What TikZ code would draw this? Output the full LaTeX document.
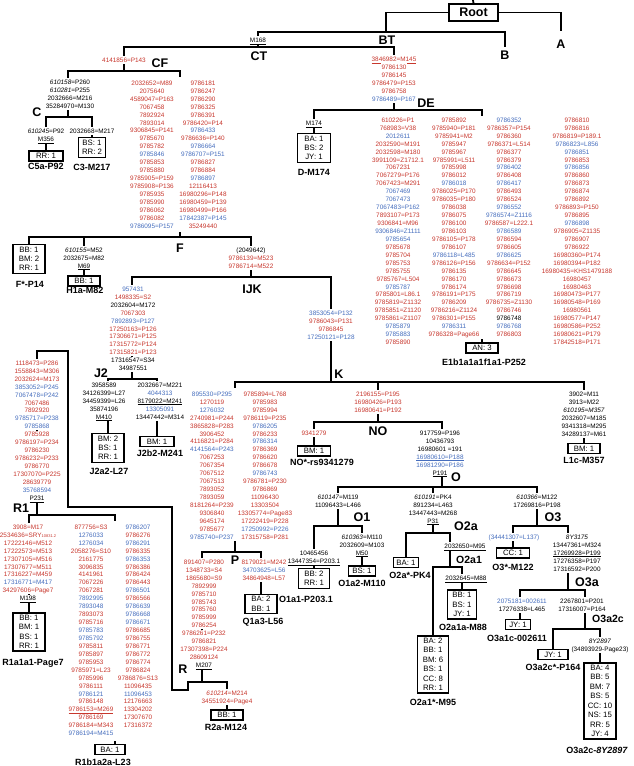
\documentclass[tikz,border=0pt]{standalone}
\usepackage{fontspec}
\setmainfont{Liberation Sans}
\definecolor{snpred}{RGB}{200,55,45}
\definecolor{snpblue}{RGB}{70,110,190}
\newcommand\Bl[1]{\textcolor{snpblue}{#1}}
\newcommand\Bk[1]{\textcolor{black}{#1}}
\newcommand\bs{\rule[-2.2pt]{0pt}{9.43pt}}
\newcommand\snpcol[5]{\foreach \itm [count=\i from 0] in {#5} {\node[snp,text=#4] (#1-\i) at (#2,{#3+\i*7.94}) {\itm};}}
\begin{document}
\begin{tikzpicture}[x=1pt,y=-1pt,
 tree/.style={line width=1.8pt, line join=miter},
 snp/.style={inner xsep=0.6pt, inner ysep=1.65pt, text height=4.6pt, text depth=0pt, font=\fontsize{6.4}{7.94}\selectfont, fill=white},
 lab/.style={inner sep=0pt, text height=8.95pt, text depth=0pt, font=\fontsize{12.5}{14}\selectfont\bfseries},
 labs/.style={inner sep=0pt, text height=7.5pt, text depth=0pt, font=\fontsize{10.5}{12}\selectfont\bfseries},
 leaf/.style={inner sep=0pt, text height=6.45pt, text depth=0pt, font=\fontsize{9}{10}\selectfont\bfseries},
 gbox/.style={draw, line width=1.4pt, fill=white, align=center, inner xsep=0pt, inner ysep=0.3pt, minimum width=#1, font=\fontsize{7.8}{9.43}\selectfont},
 gbox/.default=32pt]
\fill[white] (0,0) rectangle (634,766);
\useasboundingbox (0,0) rectangle (634,766);
% ---------- junction coordinates
\coordinate (rtop) at (473,0);
\coordinate (BT) at (386,32);
\coordinate (Aend) at (561,31);
\coordinate (Bend) at (505,47);
\coordinate (CTj) at (258,47);
\coordinate (CTl) at (124,47);
\coordinate (CTr) at (394,47);
\coordinate (CFj) at (124,71);
\coordinate (CFl) at (68,71);
\coordinate (CFr) at (180,71);
\coordinate (Cj) at (68,117);
\coordinate (Cl) at (46,117);
\coordinate (Cr) at (92,117);
\coordinate (DEj) at (394,110);
\coordinate (DEl) at (314,110);
\coordinate (DEr) at (482,110);
\coordinate (Fj) at (180,237);
\coordinate (Fl) at (29,237);
\coordinate (Fm) at (84,237);
\coordinate (Fr) at (251,237);
\coordinate (IJKj) at (251,277);
\coordinate (IJKl) at (132,277);
\coordinate (IJKr) at (331,277);
\coordinate (J2j) at (132,379);
\coordinate (J2l) at (108,379);
\coordinate (J2r) at (157,379);
\coordinate (Kj) at (331,382);
\coordinate (Kl) at (235,382);
\coordinate (Km) at (378,382);
\coordinate (Kr) at (584,382);
\coordinate (Pj) at (235,552);
\coordinate (Pl) at (202,552);
\coordinate (Pr) at (261,552);
\coordinate (Rj) at (202,682);
\coordinate (Rl) at (188,682);
\coordinate (Rr) at (227,682);
\coordinate (rp1) at (188,690);
\coordinate (rp2) at (172,690);
\coordinate (rp3) at (172,507);
\coordinate (rp4) at (68,507);
\coordinate (rp5) at (68,351);
\coordinate (rp6) at (37,351);
\coordinate (R1j) at (37,515);
\coordinate (R1l) at (29,515);
\coordinate (R1r) at (115,515);
\coordinate (NOj) at (378,422);
\coordinate (NOl) at (314,422);
\coordinate (NOr) at (442,422);
\coordinate (Oj) at (442,487);
\coordinate (Ol) at (338,487);
\coordinate (Om) at (433,487);
\coordinate (Or) at (537,487);
\coordinate (O1j) at (338,526);
\coordinate (O1l) at (314,526);
\coordinate (O1r) at (362,526);
\coordinate (O2aj) at (433,533);
\coordinate (O2al) at (406,533);
\coordinate (O2ar) at (450,533);
\coordinate (O2a1j) at (450,567);
\coordinate (O2a1l) at (433,567);
\coordinate (O2a1r) at (462,567);
\coordinate (O3j) at (537,526);
\coordinate (O3l) at (513,526);
\coordinate (O3r) at (568,526);
\coordinate (O3aj) at (568,590);
\coordinate (O3al) at (520,590);
\coordinate (O3ar) at (585,590);
\coordinate (O3a2cj) at (585,629);
\coordinate (O3a2cl) at (553,629);
\coordinate (O3a2cr) at (600,629);
% ---------- boxes
\node[draw, line width=1.5pt, fill=white, minimum width=49pt, minimum height=17pt, inner sep=0pt, font=\fontsize{12.5}{14}\selectfont\bfseries] (root) at (473.5,12.5) {Root};
\node[gbox=34pt] (bx-c5a) at (46,156) {\bs RR: 1};
\node[gbox=27pt] (bx-c3) at (92,147.5) {\bs BS: 1\\\bs RR: 2};
\node[gbox=33pt] (bx-d) at (314,148) {\bs BA: 1\\\bs BS: 2\\\bs JY: 1};
\node[gbox=32pt] (bx-e) at (482,348) {\bs AN: 3};
\node[gbox=32pt] (bx-fs) at (29,259) {\bs BB: 1\\\bs BM: 2\\\bs RR: 1};
\node[gbox=32pt] (bx-h) at (84,281) {\bs BB: 1};
\node[gbox=32pt] (bx-j2a) at (108,448) {\bs BM: 2\\\bs BS: 1\\\bs RR: 1};
\node[gbox=34pt] (bx-j2b) at (157,441.5) {\bs BM: 1};
\node[gbox=33pt] (bx-no) at (314,451) {\bs BM: 1};
\node[gbox=32pt] (bx-l) at (584,448.5) {\bs BM: 1};
\node[gbox=31pt] (bx-o1a1) at (314,578.5) {\bs BB: 2\\\bs RR: 1};
\node[gbox=27pt] (bx-o1a2) at (362,571) {\bs BS: 1};
\node[gbox=25pt] (bx-o2as) at (406,562.5) {\bs BA: 1};
\node[gbox=33pt] (bx-o3s) at (513,553) {\bs CC: 1};
\node[gbox=32pt] (bx-q) at (261,604) {\bs BA: 2\\\bs BB: 1};
\node[gbox=29pt] (bx-o2a1a) at (462,604.5) {\bs BB: 1\\\bs BS: 1\\\bs JY: 1};
\node[gbox=25pt] (bx-o3a1c) at (518,624.5) {\bs JY: 1};
\node[gbox=30pt] (bx-o3a2cs) at (553,654.5) {\bs JY: 1};
\node[gbox=32pt] (bx-r1a) at (29,632) {\bs BB: 1\\\bs BM: 1\\\bs BS: 1\\\bs RR: 1};
\node[gbox=31pt] (bx-o2a1s) at (433,664.5) {\bs BA: 2\\\bs BB: 1\\\bs BM: 6\\\bs BS: 1\\\bs CC: 8\\\bs RR: 1};
\node[gbox=32pt] (bx-r2) at (227,715) {\bs BB: 1};
\node[gbox=32pt] (bx-o3a2c) at (600,701) {\bs BA: 4\\\bs BB: 5\\\bs BM: 7\\\bs BS: 5\\\bs CC: 10\\\bs NS: 15\\\bs RR: 5\\\bs JY: 4};
\node[gbox=30pt] (bx-r1b) at (110,749.5) {\bs BA: 1};
% ---------- tree lines
\draw[tree] (rtop) -- (root.north);
\draw[tree] (root.west) -| (BT);
\draw[tree] (root.east) -| (Aend);
\draw[tree] (CTj) -- (CTj |- BT) -| (Bend);
\draw[tree] (CFj) -- (CTl) -- (CTr) -- (DEj);
\draw[tree] (Cj) -- (CFl) -- (CFr) -- (Fj);
\draw[tree] (Cl |- bx-c5a.north) -- (Cl) -- (Cr) -- (Cr |- bx-c3.north);
\draw[tree] (DEl |- bx-d.north) -- (DEl) -- (DEr) -- (DEr |- bx-e.north);
\draw[tree] (Fl |- bx-fs.north) -- (Fl) -- (Fr) -- (IJKj);
\draw[tree] (Fm) -- (Fm |- bx-h.north);
\draw[tree] (J2j) -- (IJKl) -- (IJKr) -- (Kj);
\draw[tree] (J2l |- bx-j2a.north) -- (J2l) -- (J2r) -- (J2r |- bx-j2b.north);
\draw[tree] (Pj) -- (Kl) -- (Kr) -- (Kr |- bx-l.north);
\draw[tree] (Km) -- (NOj);
\draw[tree] (Rj) -- (Pl) -- (Pr) -- (Pr |- bx-q.north);
\draw[tree] (Rr |- bx-r2.north) -- (Rr) -- (Rl) -- (rp1) -- (rp2) -- (rp3) -- (rp4) -- (rp5) -- (rp6) -- (R1j);
\draw[tree] (R1l |- bx-r1a.north) -- (R1l) -- (R1r) -- (R1r |- bx-r1b.north);
\draw[tree] (NOl |- bx-no.north) -- (NOl) -- (NOr) -- (Oj);
\draw[tree] (O1j) -- (Ol) -- (Or) -- (O3j);
\draw[tree] (Om) -- (O2aj);
\draw[tree] (O1l |- bx-o1a1.north) -- (O1l) -- (O1r) -- (O1r |- bx-o1a2.north);
\draw[tree] (O2al |- bx-o2as.north) -- (O2al) -- (O2ar) -- (O2a1j);
\draw[tree] (O2a1l |- bx-o2a1s.north) -- (O2a1l) -- (O2a1r) -- (O2a1r |- bx-o2a1a.north);
\draw[tree] (O3l |- bx-o3s.north) -- (O3l) -- (O3r) -- (O3aj);
\draw[tree] (O3al |- bx-o3a1c.north) -- (O3al) -- (O3ar) -- (O3a2cj);
\draw[tree] (O3a2cl |- bx-o3a2cs.north) -- (O3a2cl) -- (O3a2cr) -- (O3a2cr |- bx-o3a2c.north);
% ---------- gaps behind two-column blocks
\fill[white] (173,77) rectangle (187,232);
\fill[white] (478,116) rectangle (486,339);
\fill[white] (230,388) rectangle (240,541);
\fill[white] (111,521) rectangle (120,741);
% ---------- SNP texts
\node[snp,text=black] (m168) at (258,40) {\underline{M168}};
\node[snp,text=snpred] (p143) at (124,60) {4141856=P143};
\snpcol{cfa}{152}{83}{snpred}{2032652=M89, 2075640, 4589047=P163, 7067458, 7892924, 7893014, 9306845=P141, 9785670, 9785782, \Bl{9785846}, 9785853, 9785880, 9785905=P159, 9785908=P136, 9785935, 9785990, 9786062, 9786082, \Bl{9786095=P157}}
\snpcol{cfb}{203}{83}{snpred}{9786181, 9786247, 9786290, 9786325, 9786391, 9786420=P14, \Bl{9786433}, 9786636=P140, \Bl{9786664}, \Bl{9786707=P151}, 9786827, 9786884, \Bl{9786897}, 12116413, 16980296=P148, 16980459=P139, 16980499=P166, \Bl{17842387=P145}, 35249440}
\snpcol{ct}{70}{82}{black}{\textit{610158}=P260, \textit{610281}=P255, 2032666=M216, 35284970=M130}
\snpcol{c5}{46}{131}{black}{\textit{610245}=P92, \underline{M356}}
\snpcol{c3}{92}{131}{black}{2032668=M217}
\snpcol{de}{394}{59}{snpred}{\underline{3846982=M145}, 9786130, 9786145, 9786479=P153, 9786758, \Bl{9786489=P167}}
\snpcol{dd}{314}{123}{black}{\underline{M174}}
\snpcol{ea}{398}{120}{snpred}{610226=P1, 768983=V38, \Bl{2012611}, 2032590=M191, 2032598=M180, 3991109=Z1712.1, 7067231, 7067279=P176, 7067423=M291, \Bl{7067469}, \Bl{7067473}, \Bl{7067483=P162}, 7893107=P173, 9306841=M96, \Bl{9306846=Z1111}, \Bl{9785654}, 9785678, 9785704, 9785753, 9785755, 9785767=L504, \Bl{9785787}, 9785801=L86.1, 9785819=Z1132, 9785851=Z1120, 9785861=Z1107, \Bl{9785879}, \Bl{9785883}, 9785890}
\snpcol{eb}{454}{120}{snpred}{9785892, 9785940=P181, 9785941=M2, 9785947, 9785967, 9785991=L511, 9785998, 9786012, \Bl{9786018}, 9786025=P170, 9786035=P180, 9786038, 9786075, 9786100, 9786103, 9786105=P178, 9786107, \Bl{9786118=L485}, 9786126=P156, 9786135, 9786170, 9786174, 9786191=P175, 9786209, 9786216=Z1124, 9786301=P155, \Bl{9786311}, 9786328=Page66}
\snpcol{ec}{509}{120}{snpred}{\Bl{9786352}, 9786357=P154, 9786360, 9786371=L514, 9786377, 9786379, \Bl{9786402}, 9786408, \Bl{9786417}, 9786493, 9786524, \Bl{9786552}, \Bl{9786574=Z1116}, 9786587=L222.1, \Bl{9786589}, 9786594, 9786605, \Bl{9786625}, 9786634=P152, 9786645, 9786673, 9786698, 9786719, 9786735=Z1130, 9786746, \Bk{9786748}, \Bl{9786768}, 9786803}
\snpcol{ed}{577}{120}{snpred}{9786810, 9786816, 9786819=P189.1, \Bl{9786823=L856}, \Bl{9786851}, 9786853, \Bl{9786856}, 9786860, 9786873, 9786874, 9786892, 9786893=P150, 9786895, \Bl{9786898}, 9786905=Z1135, 9786907, 9786922, 16980360=P174, 16980394=P182, 16980435=KHS1479188, 16980457, 16980463, 16980473=P177, 16980548=P169, 16980561, 16980577=P147, 16980586=P252, 16980621=P179, 17842518=P171}
\snpcol{h}{84}{250}{black}{\textit{610155}=M52, 2032675=M82, \underline{M69}}
\snpcol{ijk}{251}{250}{snpred}{\Bk{(2049642)}, 9786139=M523, 9786714=M522}
\snpcol{j}{133}{289}{snpred}{\Bl{957431}, 1498335=S2, \Bk{2032604=M172}, 7067303, \Bl{7892893=P127}, 17250163=P126, 17306671=P125, 17315772=P124, 17315821=P123, \Bk{17316547=S34}, \Bk{34987551}}
\snpcol{k}{331}{313}{snpred}{\Bl{3853054=P132}, 9786043=P131, 9786845, \Bl{17250121=P128}}
\snpcol{ja}{104}{385}{black}{3958589, 34126399=L27, 34459399=L26, 35874196, \underline{M410}}
\snpcol{jb}{160}{385}{black}{2032667=M221, \Bl{4044313}, \underline{8179022=M241}, \Bl{13305091}, 13447442=M314}
\snpcol{pqa}{212}{394}{snpred}{\Bl{895530=P295}, 1270119, \Bl{1276032}, 2740981=P244, 3865828=P283, 3906452, 4116821=P284, \Bl{4141564=P243}, 7067253, 7067354, 7067512, 7067513, 7893052, 7893059, 8181264=P239, 9306840, 9645174, 9785677, \Bl{9785740=P237}}
\snpcol{pqb}{265}{394}{snpred}{9785894=L768, 9785983, 9785994, 9786119=P235, \Bl{9786205}, 9786233, \Bl{9786314}, 9786369, 9786620, 9786678, \Bl{9786743}, 9786781=P230, 9786869, 11096430, 13303504, 13305774=Page83, 17222419=P228, \Bl{17250992=P226}, 17315758=P281}
\snpcol{rp}{204}{562}{snpred}{891407=P280, 1348733=S4, 1865680=S9, 7892999, 9785710, 9785743, 9785760, 9785999, 9786254, 9786261=P232, 9786821, 17307398=P224, 28609124, \Bk{\underline{M207}}}
\snpcol{q}{264}{562}{snpred}{8179021=M242, \Bl{34703625=L56}, 34864948=L57}
\snpcol{r2}{227}{693}{snpred}{\underline{\textit{610214}=M214}, 34551924=Page4}
\snpcol{r1}{37}{363}{snpred}{1118473=P286, 1558843=M306, 2032624=M173, \Bl{3853052=P245}, \Bl{7067478=P242}, 7067486, 7892920, \Bl{9785717=P238}, \Bl{9785868}, 9785928, 9786197=P234, 9786230, 9786232=P233, 9786770, 17307070=P225, 28639779, \Bl{35768594}, \Bk{\underline{P231}}}
\snpcol{r1a}{28}{527}{snpred}{3908=M17, 2534636=SRY{\fontsize{4}{4}\selectfont 10831.2}, 17222146=M512, 17222573=M513, 17307105=M516, 17307677=M511, 17316227=M459, \Bl{17316771=M417}, 34297606=Page7, \Bk{\underline{M198}}}
\snpcol{r1b}{91}{527}{snpred}{877756=S3, \Bl{1276033}, \Bl{1276034}, 2058276=S10, 2161775, 3096835, 4141961, 7067226, 7067281, \Bl{7892995}, \Bl{7893048}, 7893073, 9785716, \Bl{9785783}, \Bl{9785792}, 9785811, 9785897, 9785953, 9785971=L23, 9785996, 9786111, \Bl{9786121}, 9786148, \underline{9786153=M269}, 9786169, 9786184=M343, \Bl{9786194=M415}}
\snpcol{r1c}{138}{527}{snpred}{\Bl{9786207}, 9786276, \Bl{9786291}, 9786335, \Bl{9786353}, 9786386, 9786424, 9786443, \Bl{9786501}, 9786566, \Bl{9786639}, \Bl{9786668}, \Bl{9786671}, 9786685, 9786755, 9786771, 9786772, 9786774, 9786824, 9786876=S13, 11096435, \Bl{11096453}, 12176663, 13304202, 17307670, 17316372}
\snpcol{no}{378}{394}{snpred}{2196155=P195, 16980426=P193, 16980641=P192}
\snpcol{nos}{314}{433}{snpred}{9341279}
\snpcol{nor}{440}{433}{black}{917759=P196, 10436793, 16980601 =191, \Bl{\underline{16980610=P188}}, \Bl{16981290=P186}, \underline{P191}}
\snpcol{o1}{338}{497}{black}{\textit{610147}=M119, 11096433=L466}
\snpcol{o1a}{314}{553}{black}{10465456, \underline{13447354=P203.1}}
\snpcol{o1b}{362}{537}{black}{\textit{610363}=M110, 2032609=M103, \underline{M50}}
\snpcol{o2}{433}{497}{black}{\textit{610191}=PK4, 891234=L463, 13447443=M268, \underline{P31}}
\snpcol{o2b}{465}{546}{black}{\underline{2032650=M95}}
\snpcol{o2c}{466}{578}{black}{\underline{2032645=M88}}
\snpcol{o3}{537}{497}{black}{\underline{\textit{610366}=M122}, 17269816=P198}
\snpcol{o3s}{514}{537}{snpblue}{(34441307=L137)}
\snpcol{o3r}{577}{537}{black}{\textit{8Y3175}, 13447361=M324, \underline{17269928=P199}, 17276358=P197, 17316592=P200}
\snpcol{o3a}{522}{601}{black}{\Bl{2075181=002611}, 17276338=L465}
\snpcol{o3b}{582}{601}{black}{\underline{2267801=P201}, 17316007=P164}
\snpcol{o3c}{600}{641}{black}{\textit{8Y2897}, (34893929-Page23)}
\snpcol{l1}{584}{394}{black}{\underline{3902=M11}, 3913=M22, \textit{610195=M357}, 2032607=M185, 9341318=M295, 34289137=M61}
% ---------- clade labels
\node[lab] (lCF) at (160,63) {CF};
\node[lab] (lBT) at (387,40) {BT};
\node[lab] (lCT) at (259,56) {CT};
\node[lab] (lDE) at (426,103) {DE};
\node[lab] (lA) at (561,44) {A};
\node[lab] (lB) at (505,55) {B};
\node[lab] (lC) at (37,112) {C};
\node[lab] (lF) at (180,248) {F};
\node[lab] (lIJK) at (252,289) {IJK};
\node[lab] (lJ2) at (101,373) {J2};
\node[lab] (lK) at (339,374) {K};
\node[lab] (lNO) at (378,431) {NO};
\node[lab] (lO) at (456,477) {O};
\node[lab] (lO1) at (362,517) {O1};
\node[lab] (lO2a) at (466,526) {O2a};
\node[lab] (lO3) at (553,517) {O3};
\node[labs] (lO2a1) at (469,560) {O2a1};
\node[lab] (lO3a) at (587,582) {O3a};
\node[labs] (lO3a2c) at (608,619) {O3a2c};
\node[lab] (lR1) at (21,508) {R1};
\node[lab] (lR) at (183,669) {R};
\node[lab] (lP) at (235,560) {P};
% ---------- leaf labels
\node[leaf] (nC5a) at (46,166) {C5a-P92};
\node[leaf] (nC3) at (92,167) {C3-M217};
\node[leaf] (nD) at (314,172) {D-M174};
\node[leaf] (nE) at (484,362) {E1b1a1a1f1a1-P252};
\node[leaf] (nF) at (30,284) {F*-P14};
\node[leaf] (nH) at (85,290) {H1a-M82};
\node[leaf] (nJ2a) at (109,471) {J2a2-L27};
\node[leaf] (nJ2b) at (160,453) {J2b2-M241};
\node[leaf] (nNO) at (322,462) {NO*-rs9341279};
\node[leaf] (nL) at (584,460) {L1c-M357};
\node[leaf] (nO1a1) at (306,599) {O1a1-P203.1};
\node[leaf] (nO1a2) at (362,583) {O1a2-M110};
\node[leaf] (nO2as) at (410,575) {O2a*-PK4};
\node[leaf] (nO3s) at (513,567) {O3*-M122};
\node[leaf] (nQ) at (263,621) {Q1a3-L56};
\node[leaf] (nO2a1a) at (463,627) {O2a1a-M88};
\node[leaf] (nO3a1c) at (517,638) {O3a1c-002611};
\node[leaf] (nO3a2cs) at (553,667) {O3a2c*-P164};
\node[leaf] (nR1a) at (33,662) {R1a1a1-Page7};
\node[leaf] (nO2a1s) at (433,702) {O2a1*-M95};
\node[leaf] (nR2) at (226,727) {R2a-M124};
\node[leaf] (nO3a2c) at (597,750) {O3a2c-\textit{8Y2897}};
\node[leaf] (nR1b) at (103,762) {R1b1a2a-L23};
\end{tikzpicture}
\end{document}
